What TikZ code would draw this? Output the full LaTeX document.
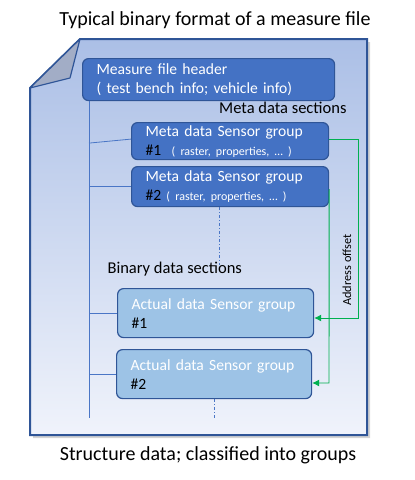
\documentclass[tikz,border=0pt]{standalone}
\usepackage{fontspec}
\setmainfont{Carlito}
\usepackage{tikz}
\usetikzlibrary{arrows.meta, positioning, shadows}

\definecolor{pageline}{HTML}{2F5597}
\definecolor{pagetop}{HTML}{ABBFE6}
\definecolor{pagebot}{HTML}{F0F3FB}
\definecolor{foldgray}{HTML}{A2ADC6}
\definecolor{metablue}{HTML}{4472C4}
\definecolor{datablue}{HTML}{9DC3E6}
\definecolor{treeline}{HTML}{4A76C6}
\definecolor{offsetgreen}{HTML}{00B050}

\begin{document}
\begin{tikzpicture}[
    x=1pt, y=-1pt,
    every node/.style={font=\fontsize{15.6}{19}\selectfont},
    metabox/.style={rectangle, draw=pageline, line width=1.2pt, rounded corners=6pt, fill=metablue,
      text=white, anchor=north west, align=left, inner xsep=14pt, inner ysep=0pt},
    databox/.style={metabox, fill=datablue},
    caption/.style={font=\fontsize{20}{22}\selectfont},
    section/.style={font=\fontsize{16.5}{19}\selectfont},
    tree/.style={draw=treeline, line width=0.8pt},
    gap/.style={draw=treeline, line width=0.7pt, dash pattern=on 3pt off 2pt on 1pt off 2pt},
    offset/.style={draw=offsetgreen, line width=0.9pt},
    arrow/.style={offset, -{Latex[length=7pt, width=7pt]}}
  ]
  \useasboundingbox (0,0) rectangle (415,480);

  % the file page with its folded corner
  \path[draw=pageline, line width=2pt, top color=pagetop, bottom color=pagebot,
    drop shadow={shadow xshift=3pt, shadow yshift=-3pt, opacity=0.35}]
    (30,88) -- (80,39) -- (367,39) -- (367,435) -- (30,435) -- cycle;
  \path[draw=pageline, line width=1.2pt, fill=foldgray, line join=round]
    (80,39) -- (70,78) -- (30,88) -- cycle;

  \node[caption] (title) at (215,20) {Typical binary format of a measure file};
  \node[caption] (footer) at (208,455) {Structure data; classified into groups};

  % sections
  \node[metabox, minimum width=252pt, minimum height=42pt, text width=224pt] (header) at (82,58)
    {Measure file header\\( test bench info; vehicle info)};
  \node[section, anchor=east] (metalabel) at (350,108) {Meta data sections};
  \node[metabox, minimum width=197pt, minimum height=37pt, text width=169pt] (meta1) at (131,122)
    {Meta data Sensor group\\\textcolor{black}{\#1}\ \ {\fontsize{12}{14}\selectfont( raster, properties, … )}};
  \node[metabox, minimum width=197pt, minimum height=40pt, text width=169pt] (meta2) at (131,166)
    {Meta data Sensor group\\\textcolor{black}{\#2}\ {\fontsize{12}{14}\selectfont( raster, properties, … )}};
  \node[section, anchor=west] (binlabel) at (104,269) {Binary data sections};
  \node[databox, minimum width=196pt, minimum height=49pt, text width=168pt] (data1) at (117,288)
    {Actual data Sensor group\\\textcolor{black}{\#1}};
  \node[databox, minimum width=195pt, minimum height=49pt, text width=167pt] (data2) at (116,349)
    {Actual data Sensor group\\\textcolor{black}{\#2}};

  % tree from the header
  \coordinate (trunk) at (89,418);
  \draw[tree] (header.south -| trunk) -- (trunk);
  \draw[tree] (trunk |- meta1.west) ++(0,2) -- ([yshift=2pt]meta1.west);
  \draw[tree] (trunk |- meta2.west) -- (meta2.west);
  \draw[tree] (trunk |- data1.west) -- (data1.west);
  \draw[tree] (trunk |- data2.west) -- (data2.west);

  % further sections
  \coordinate (metagap) at (219,265);
  \coordinate (datagap) at (214,418);
  \draw[gap] (meta2.south -| metagap) -- (metagap);
  \draw[gap] (data2.south -| datagap) -- (datagap);

  % address offsets
  \coordinate (turn1) at (358,318);
  \coordinate (turn2) at (329,383);
  \draw[arrow] ([yshift=2pt]meta1.east) -| (turn1) -- (data1.east |- turn1);
  \draw[arrow] ([yshift=-23pt]meta2.north east) -- (turn2) -- (data2.east |- turn2);
  \node[rotate=90, font=\fontsize{12.3}{14}\selectfont] (offsetlabel) at (347,270) {Address offset};

\end{tikzpicture}
\end{document}
